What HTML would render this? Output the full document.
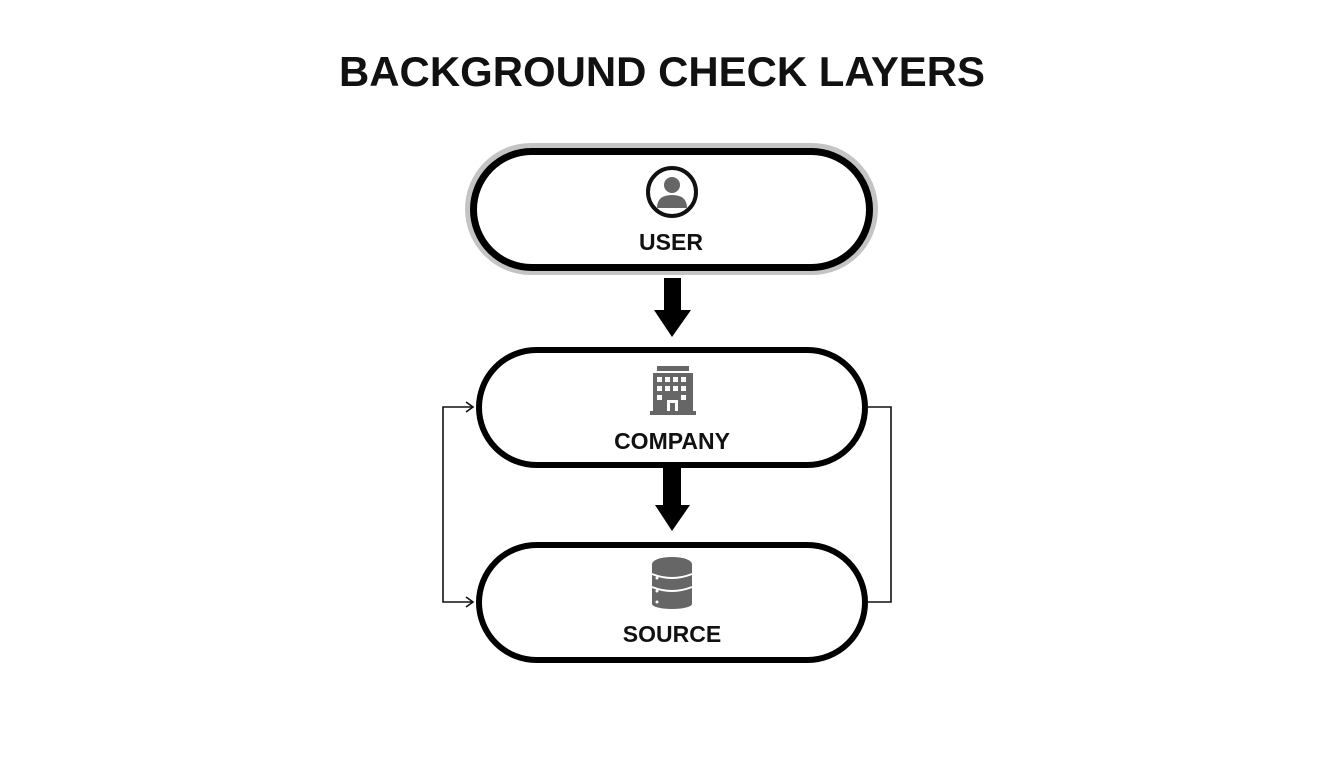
<!DOCTYPE html>
<html><head><meta charset="utf-8"><style>
html,body{margin:0;padding:0;background:#fff;}
svg{display:block;}
text{font-family:"Liberation Sans",Arial,sans-serif;font-weight:bold;fill:#111;}
</style></head><body>
<svg width="1344" height="768" viewBox="0 0 1344 768" xmlns="http://www.w3.org/2000/svg">
<rect width="1344" height="768" fill="#fff"/>
<text x="662" y="86" font-size="42" text-anchor="middle" textLength="646" lengthAdjust="spacingAndGlyphs">BACKGROUND CHECK LAYERS</text>

<!-- USER -->
<rect x="465" y="143" width="413" height="132" rx="66" fill="#c4c4c4"/>
<rect x="473.5" y="151.5" width="396" height="116" rx="58" fill="#fff" stroke="#000" stroke-width="7"/>
<circle cx="672" cy="192" r="24" fill="#fff" stroke="#111" stroke-width="4"/>
<circle cx="672" cy="185" r="8" fill="#666"/>
<path d="M657 208 Q657 195 672 195 Q687 195 687 208 Z" fill="#666"/>
<text x="671" y="250" font-size="23" text-anchor="middle">USER</text>

<!-- arrow 1 -->
<rect x="664" y="278" width="17" height="33" fill="#000"/>
<polygon points="654,310 691,310 672,337" fill="#000"/>

<!-- COMPANY -->
<rect x="479" y="350" width="386" height="115" rx="57.5" fill="#fff" stroke="#000" stroke-width="6"/>
<g fill="#666">
<rect x="657" y="366" width="32" height="5"/>
<rect x="653" y="373" width="40" height="38"/>
<rect x="650" y="411" width="46" height="4"/>
</g>
<g fill="#fff">
<rect x="657" y="377" width="5" height="5"/><rect x="665" y="377" width="5" height="5"/><rect x="673" y="377" width="5" height="5"/><rect x="681" y="377" width="5" height="5"/>
<rect x="657" y="386" width="5" height="5"/><rect x="665" y="386" width="5" height="5"/><rect x="673" y="386" width="5" height="5"/><rect x="681" y="386" width="5" height="5"/>
<rect x="657" y="395" width="5" height="5"/><rect x="681" y="395" width="5" height="5"/>
<rect x="667" y="400" width="11" height="11"/>
</g>
<rect x="670" y="403" width="5" height="8" fill="#666"/>
<text x="672" y="449" font-size="23" text-anchor="middle">COMPANY</text>

<!-- arrow 2 -->
<rect x="663" y="466" width="18" height="40" fill="#000"/>
<polygon points="655,505 690,505 672,531" fill="#000"/>

<!-- SOURCE -->
<rect x="479" y="545" width="386" height="115" rx="57.5" fill="#fff" stroke="#000" stroke-width="6"/>
<g fill="#666">
<ellipse cx="672" cy="564" rx="20" ry="7"/>
<rect x="652" y="564" width="40" height="40"/>
<ellipse cx="672" cy="604" rx="20" ry="5"/>
</g>
<g stroke="#fff" stroke-width="2" fill="none">
<path d="M652 574 Q672 582 692 574"/>
<path d="M652 587 Q672 595 692 587"/>
</g>
<g fill="#fff"><circle cx="657" cy="578" r="1.5"/><circle cx="657" cy="591" r="1.5"/><circle cx="657" cy="602" r="1.5"/></g>
<text x="672" y="642" font-size="23" text-anchor="middle">SOURCE</text>

<!-- side connectors -->
<g stroke="#111" stroke-width="1.6" fill="none">
<polyline points="472,407 443,407 443,602 472,602"/>
<polyline points="466,402 473,407 466,412"/>
<polyline points="466,597 473,602 466,607"/>
<polyline points="866,407 891,407 891,602 866,602"/>
</g>
</svg>
</body></html>
